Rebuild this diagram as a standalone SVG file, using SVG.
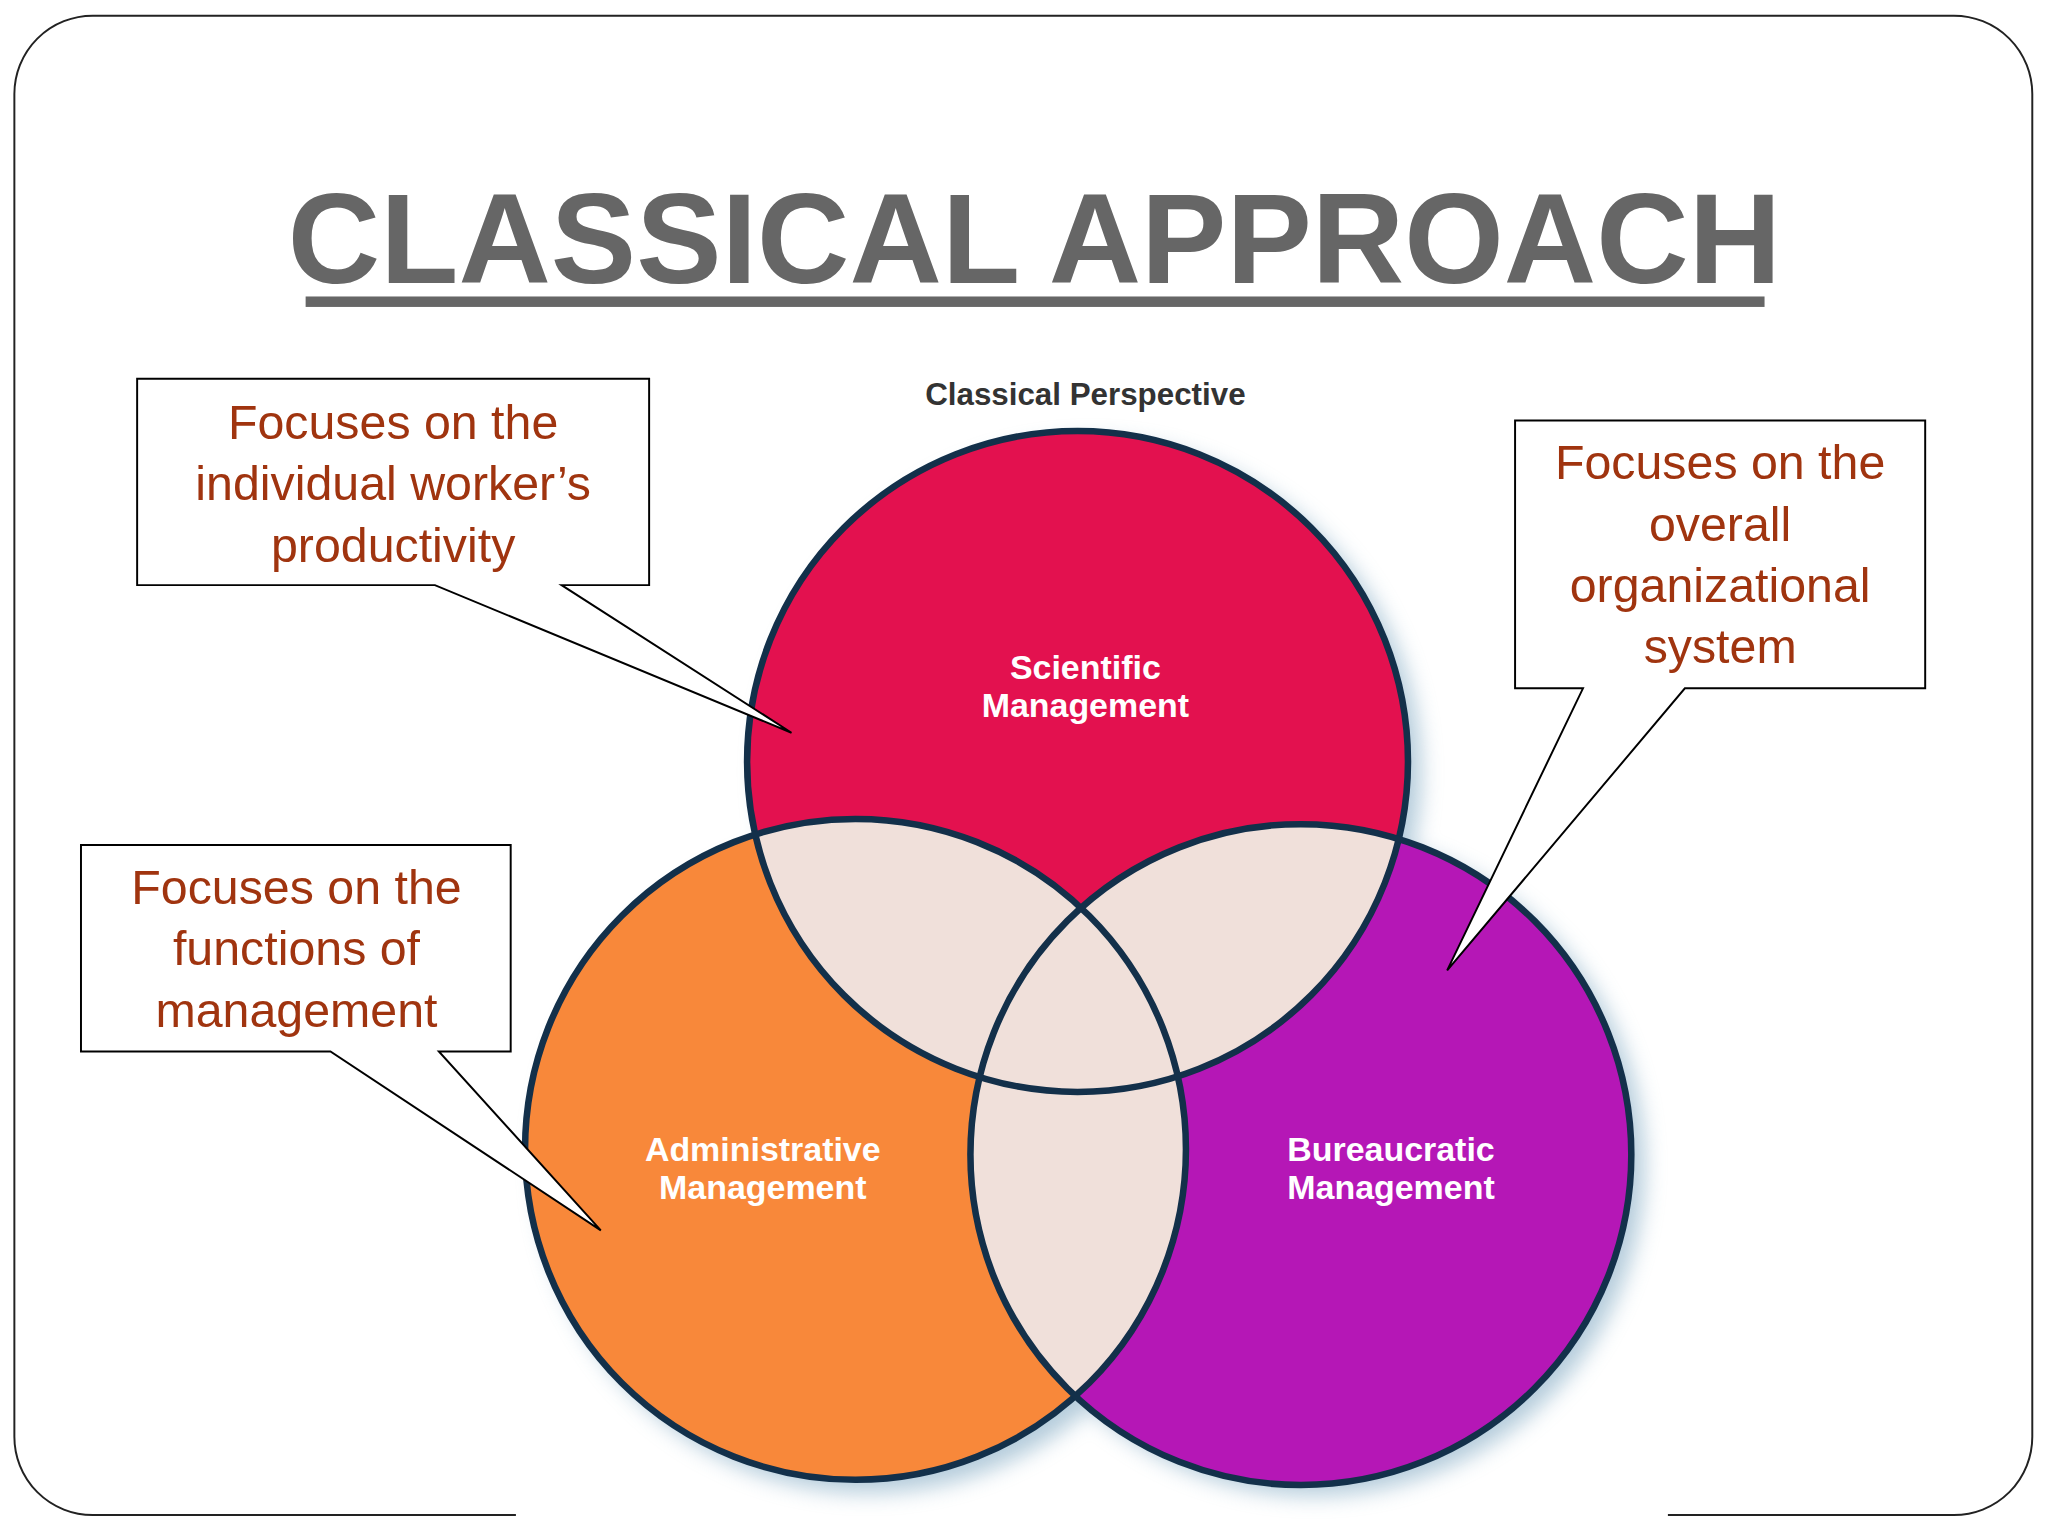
<svg xmlns="http://www.w3.org/2000/svg" width="2048" height="1536" viewBox="0 0 2048 1536">
<defs>
<style>
.ct{font-family:"Liberation Sans",Arial,sans-serif;font-weight:bold;font-size:26px;fill:#fff;text-anchor:middle}
.cb{font-family:"Liberation Sans",Arial,sans-serif;font-size:37px;fill:#A0340F;text-anchor:middle}
.ring{fill:none;stroke:#13304a;stroke-width:5}
.call{fill:#fff;stroke:#000;stroke-width:1.5}
</style>
<clipPath id="cS"><circle cx="825" cy="583" r="253"/></clipPath>
<clipPath id="cA"><circle cx="655" cy="880" r="253"/></clipPath>
<clipPath id="cB"><circle cx="996" cy="884" r="253"/></clipPath>
<filter id="sh" x="-20%" y="-20%" width="140%" height="140%"><feGaussianBlur stdDeviation="8"/></filter>
</defs>
<rect width="2048" height="1536" fill="#fff"/>
<g transform="scale(1.3061)">
<rect x="11" y="12" width="1545" height="1148" rx="60" fill="#fff" stroke="#222" stroke-width="1.5"/>
<rect x="395" y="1150" width="882" height="20" fill="#fff"/>
<g id="title">
<text x="792" y="217" font-family="Liberation Sans,Arial,sans-serif" font-weight="bold" font-size="98" fill="#666" text-anchor="middle">CLASSICAL APPROACH</text>
<rect x="234" y="227" width="1117" height="8" fill="#666"/>
</g>
<text x="831" y="310" font-family="Liberation Sans,Arial,sans-serif" font-weight="bold" font-size="24" fill="#333" text-anchor="middle">Classical Perspective</text>
<g id="shadow" filter="url(#sh)" opacity="0.5">
<circle cx="1006" cy="892" r="253" fill="#6a9ab8"/>
<circle cx="665" cy="890" r="253" fill="#6a9ab8"/>
<circle cx="835" cy="591" r="253" fill="#6a9ab8"/>
</g>
<g id="scientific"><circle cx="825" cy="583" r="253" fill="#E3114F"/></g>
<g id="administrative"><circle cx="655" cy="880" r="253" fill="#F8883A"/></g>
<g id="bureaucratic"><circle cx="996" cy="884" r="253" fill="#B517B6"/></g>
<g id="overlaps" fill="#F0E0DA">
<circle cx="825" cy="583" r="253" clip-path="url(#cA)"/>
<circle cx="825" cy="583" r="253" clip-path="url(#cB)"/>
<circle cx="655" cy="880" r="253" clip-path="url(#cB)"/>
</g>
<g id="rings">
<circle class="ring" cx="825" cy="583" r="253"/>
<circle class="ring" cx="655" cy="880" r="253"/>
<circle class="ring" cx="996" cy="884" r="253"/>
</g>
<g id="labels">
<text class="ct" x="831" y="520">Scientific</text><text class="ct" x="831" y="549">Management</text>
<text class="ct" x="584" y="889">Administrative</text><text class="ct" x="584" y="918">Management</text>
<text class="ct" x="1065" y="889">Bureaucratic</text><text class="ct" x="1065" y="918">Management</text>
</g>
<g id="callout1">
<path class="call" d="M105,290 H497 V448 H430 L606,561 L333,448 H105 Z"/>
<text class="cb" x="301" y="336">Focuses on the</text>
<text class="cb" x="301" y="383">individual worker’s</text>
<text class="cb" x="301" y="430">productivity</text>
</g>
<g id="callout2">
<path class="call" d="M1160,322 H1474 V527 H1290 L1108,743 L1212,527 H1160 Z"/>
<text class="cb" x="1317" y="367">Focuses on the</text>
<text class="cb" x="1317" y="414">overall</text>
<text class="cb" x="1317" y="461">organizational</text>
<text class="cb" x="1317" y="508">system</text>
</g>
<g id="callout3">
<path class="call" d="M62,647 H391 V805 H336 L460,942 L253,805 H62 Z"/>
<text class="cb" x="227" y="692">Focuses on the</text>
<text class="cb" x="227" y="739">functions of</text>
<text class="cb" x="227" y="786">management</text>
</g>
</g>
</svg>
